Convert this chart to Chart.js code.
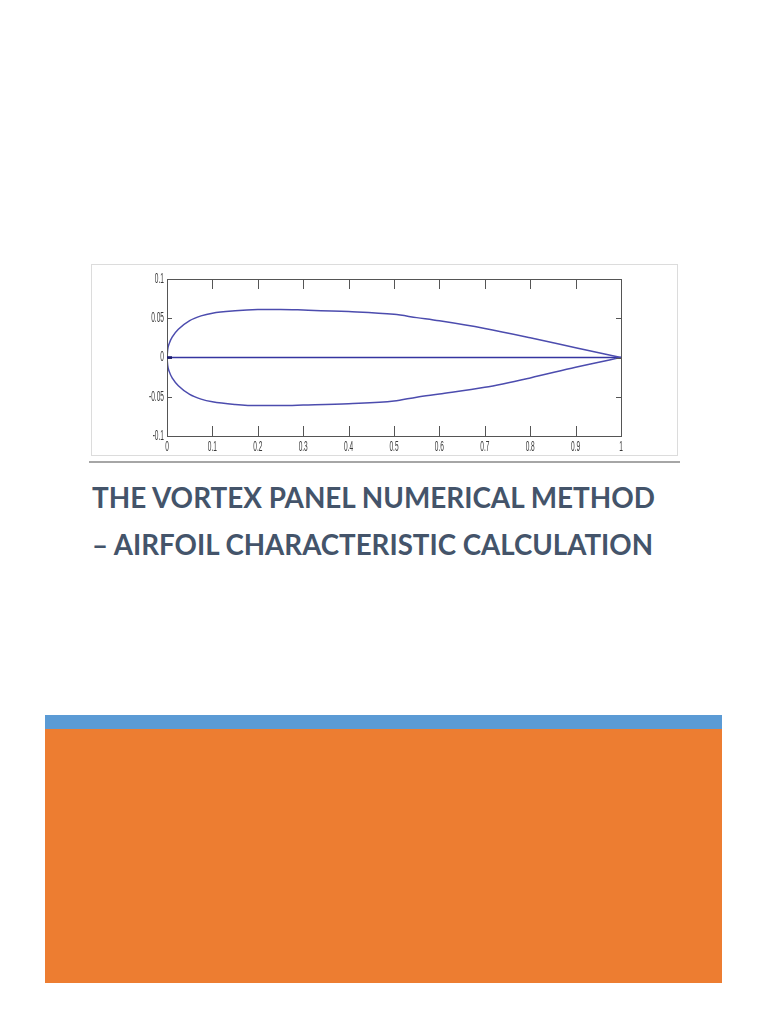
<!DOCTYPE html>
<html>
<head>
<meta charset="utf-8">
<script src="https://cdn.jsdelivr.net/npm/chart.js@4.4.1/dist/chart.umd.min.js"></script>
<style>
  html, body { margin: 0; padding: 0; background: #fff; }
  body { width: 768px; height: 1024px; position: relative; overflow: hidden; }
  #frame { position: absolute; left: 91px; top: 264px; width: 585px; height: 190px; border: 1px solid #dcdcdc; }
  #chartBox { position: absolute; left: 91px; top: 264px; width: 586px; height: 192px; }
  #rule { position: absolute; left: 89px; top: 461px; width: 591px; height: 2px; background: #a6a6a6; }
  .title { position: absolute; left: 92px; font-family: Lato, "Open Sans", sans-serif; font-weight: bold;
           color: #44546a; white-space: nowrap; line-height: 1; }
  #blueBand { position: absolute; left: 45px; top: 715px; width: 677px; height: 14px; background: #5b9bd5; }
  #orangeBlock { position: absolute; left: 45px; top: 729px; width: 677px; height: 254px; background: #ed7d31; }
</style>
</head>
<body>
<div id="frame"></div>
<div id="chartBox"><canvas id="airfoilChart"></canvas></div>
<div id="rule"></div>
<div class="title" id="line1">THE VORTEX PANEL NUMERICAL METHOD</div>
<div class="title" id="line2">– AIRFOIL CHARACTERISTIC CALCULATION</div>
<div id="blueBand"></div>
<div id="orangeBlock"></div>

<script>
// Airfoil surface points
const xSurface = [0, 0.0015, 0.005, 0.0125, 0.025, 0.05, 0.075, 0.1, 0.15, 0.2, 0.25, 0.3, 0.4, 0.5, 0.55, 0.6, 0.7, 0.8, 0.9, 1.0];
const yUpper   = [0, 0.010, 0.018, 0.027, 0.036, 0.047, 0.053, 0.0565, 0.0595, 0.061, 0.0612, 0.0605, 0.0585, 0.055, 0.0508, 0.0467, 0.037, 0.0252, 0.0125, 0];
const yLower   = [0, -0.010, -0.018, -0.027, -0.036, -0.047, -0.053, -0.0565, -0.0598, -0.0613, -0.0612, -0.0605, -0.0588, -0.0555, -0.0505, -0.0465, -0.038, -0.026, -0.0124, 0];

// Chord line
const xChord = [0, 1];
const yChord = [0, 0];

// Axis ranges / tick steps
const xRange = [0, 1];
const yRange = [-0.1, 0.1];
const xStep = 0.1;
const yStep = 0.05;

function toPoints(xs, ys) {
    return xs.map((x, i) => ({ x: x, y: ys[i] }));
}

// MATLAB style labels: 0.1, 0.05, 0, 1 (no padded decimals)
function tickText(t) {
    return String(Math.round(t.value * 1000) / 1000);
}

// MATLAB-like box: frame, inward ticks, condensed labels
const matlabAxes = {
    id: 'matlabAxes',
    afterDraw(chart) {
        const ctx = chart.ctx;
        const a = chart.chartArea;
        const xs = chart.scales.x;
        const ys = chart.scales.y;
        ctx.save();
        ctx.strokeStyle = '#555';
        ctx.lineWidth = 1;
        ctx.strokeRect(Math.round(a.left) + 0.5, Math.round(a.top) + 0.5,
                       Math.round(a.right - a.left), Math.round(a.bottom - a.top));

        ctx.beginPath();
        xs.ticks.forEach(t => {
            const px = Math.round(xs.getPixelForValue(t.value)) + 0.5;
            ctx.moveTo(px, a.bottom); ctx.lineTo(px, a.bottom - 10);
            ctx.moveTo(px, a.top); ctx.lineTo(px, a.top + 10);
        });
        ys.ticks.forEach(t => {
            const py = Math.round(ys.getPixelForValue(t.value)) + 0.5;
            ctx.moveTo(a.left, py); ctx.lineTo(a.left + 5, py);
            ctx.moveTo(a.right, py); ctx.lineTo(a.right - 5, py);
        });
        ctx.stroke();

        // short dark mark where the chord meets the leading edge
        ctx.strokeStyle = '#1a1a70';
        ctx.lineWidth = 2.5;
        const y0 = ys.getPixelForValue(0);
        ctx.beginPath();
        ctx.moveTo(a.left, y0); ctx.lineTo(a.left + 5, y0);
        ctx.stroke();

        ctx.fillStyle = '#3a3a3a';
        ctx.font = '14px "Liberation Sans", Arial, sans-serif';
        const squeeze = 0.47;

        ctx.textBaseline = 'top';
        ctx.textAlign = 'center';
        xs.ticks.forEach(t => {
            const px = xs.getPixelForValue(t.value);
            ctx.save();
            ctx.translate(px, a.bottom + 4);
            ctx.scale(squeeze, 1);
            ctx.fillText(tickText(t), 0, 0);
            ctx.restore();
        });

        ctx.textBaseline = 'middle';
        ctx.textAlign = 'right';
        ys.ticks.forEach(t => {
            const py = ys.getPixelForValue(t.value);
            ctx.save();
            ctx.translate(a.left - 3, py);
            ctx.scale(squeeze, 1);
            ctx.fillText(tickText(t), 0, 0);
            ctx.restore();
        });
        ctx.restore();
    }
};

const lineStyle = {
    showLine: true,
    pointRadius: 0,
    borderWidth: 1.5,
    fill: false,
    cubicInterpolationMode: 'monotone'
};

const ctx = document.getElementById('airfoilChart').getContext('2d');
new Chart(ctx, {
    type: 'scatter',
    data: {
        datasets: [
            Object.assign({ label: 'Upper', data: toPoints(xSurface, yUpper), borderColor: '#4c4cae' }, lineStyle),
            Object.assign({ label: 'Lower', data: toPoints(xSurface, yLower), borderColor: '#4c4cae' }, lineStyle),
            Object.assign({ label: 'Chord', data: toPoints(xChord, yChord), borderColor: '#3535a0' }, lineStyle)
        ]
    },
    options: {
        responsive: true,
        maintainAspectRatio: false,
        animation: false,
        layout: { padding: { left: 76, top: 15, right: 56, bottom: 20 } },
        plugins: { legend: { display: false }, tooltip: { enabled: false } },
        scales: {
            x: {
                type: 'linear', min: xRange[0], max: xRange[1],
                ticks: { stepSize: xStep, display: false },
                grid: { display: false, drawTicks: false },
                border: { display: false },
                afterFit: s => { s.height = 0; }
            },
            y: {
                type: 'linear', min: yRange[0], max: yRange[1],
                ticks: { stepSize: yStep, display: false },
                grid: { display: false, drawTicks: false },
                border: { display: false },
                afterFit: s => { s.width = 0; }
            }
        }
    },
    plugins: [matlabAxes]
});

// Title lines: fit to the measured widths of the reference
function fitTitle(id, targetWidth, top) {
    const el = document.getElementById(id);
    el.style.fontSize = '24px';
    const w = el.getBoundingClientRect().width;
    el.style.fontSize = (24 * targetWidth / w).toFixed(2) + 'px';
    el.style.top = top + 'px';
}
fitTitle('line1', 563, 484);
fitTitle('line2', 561, 531);
</script>
</body>
</html>
